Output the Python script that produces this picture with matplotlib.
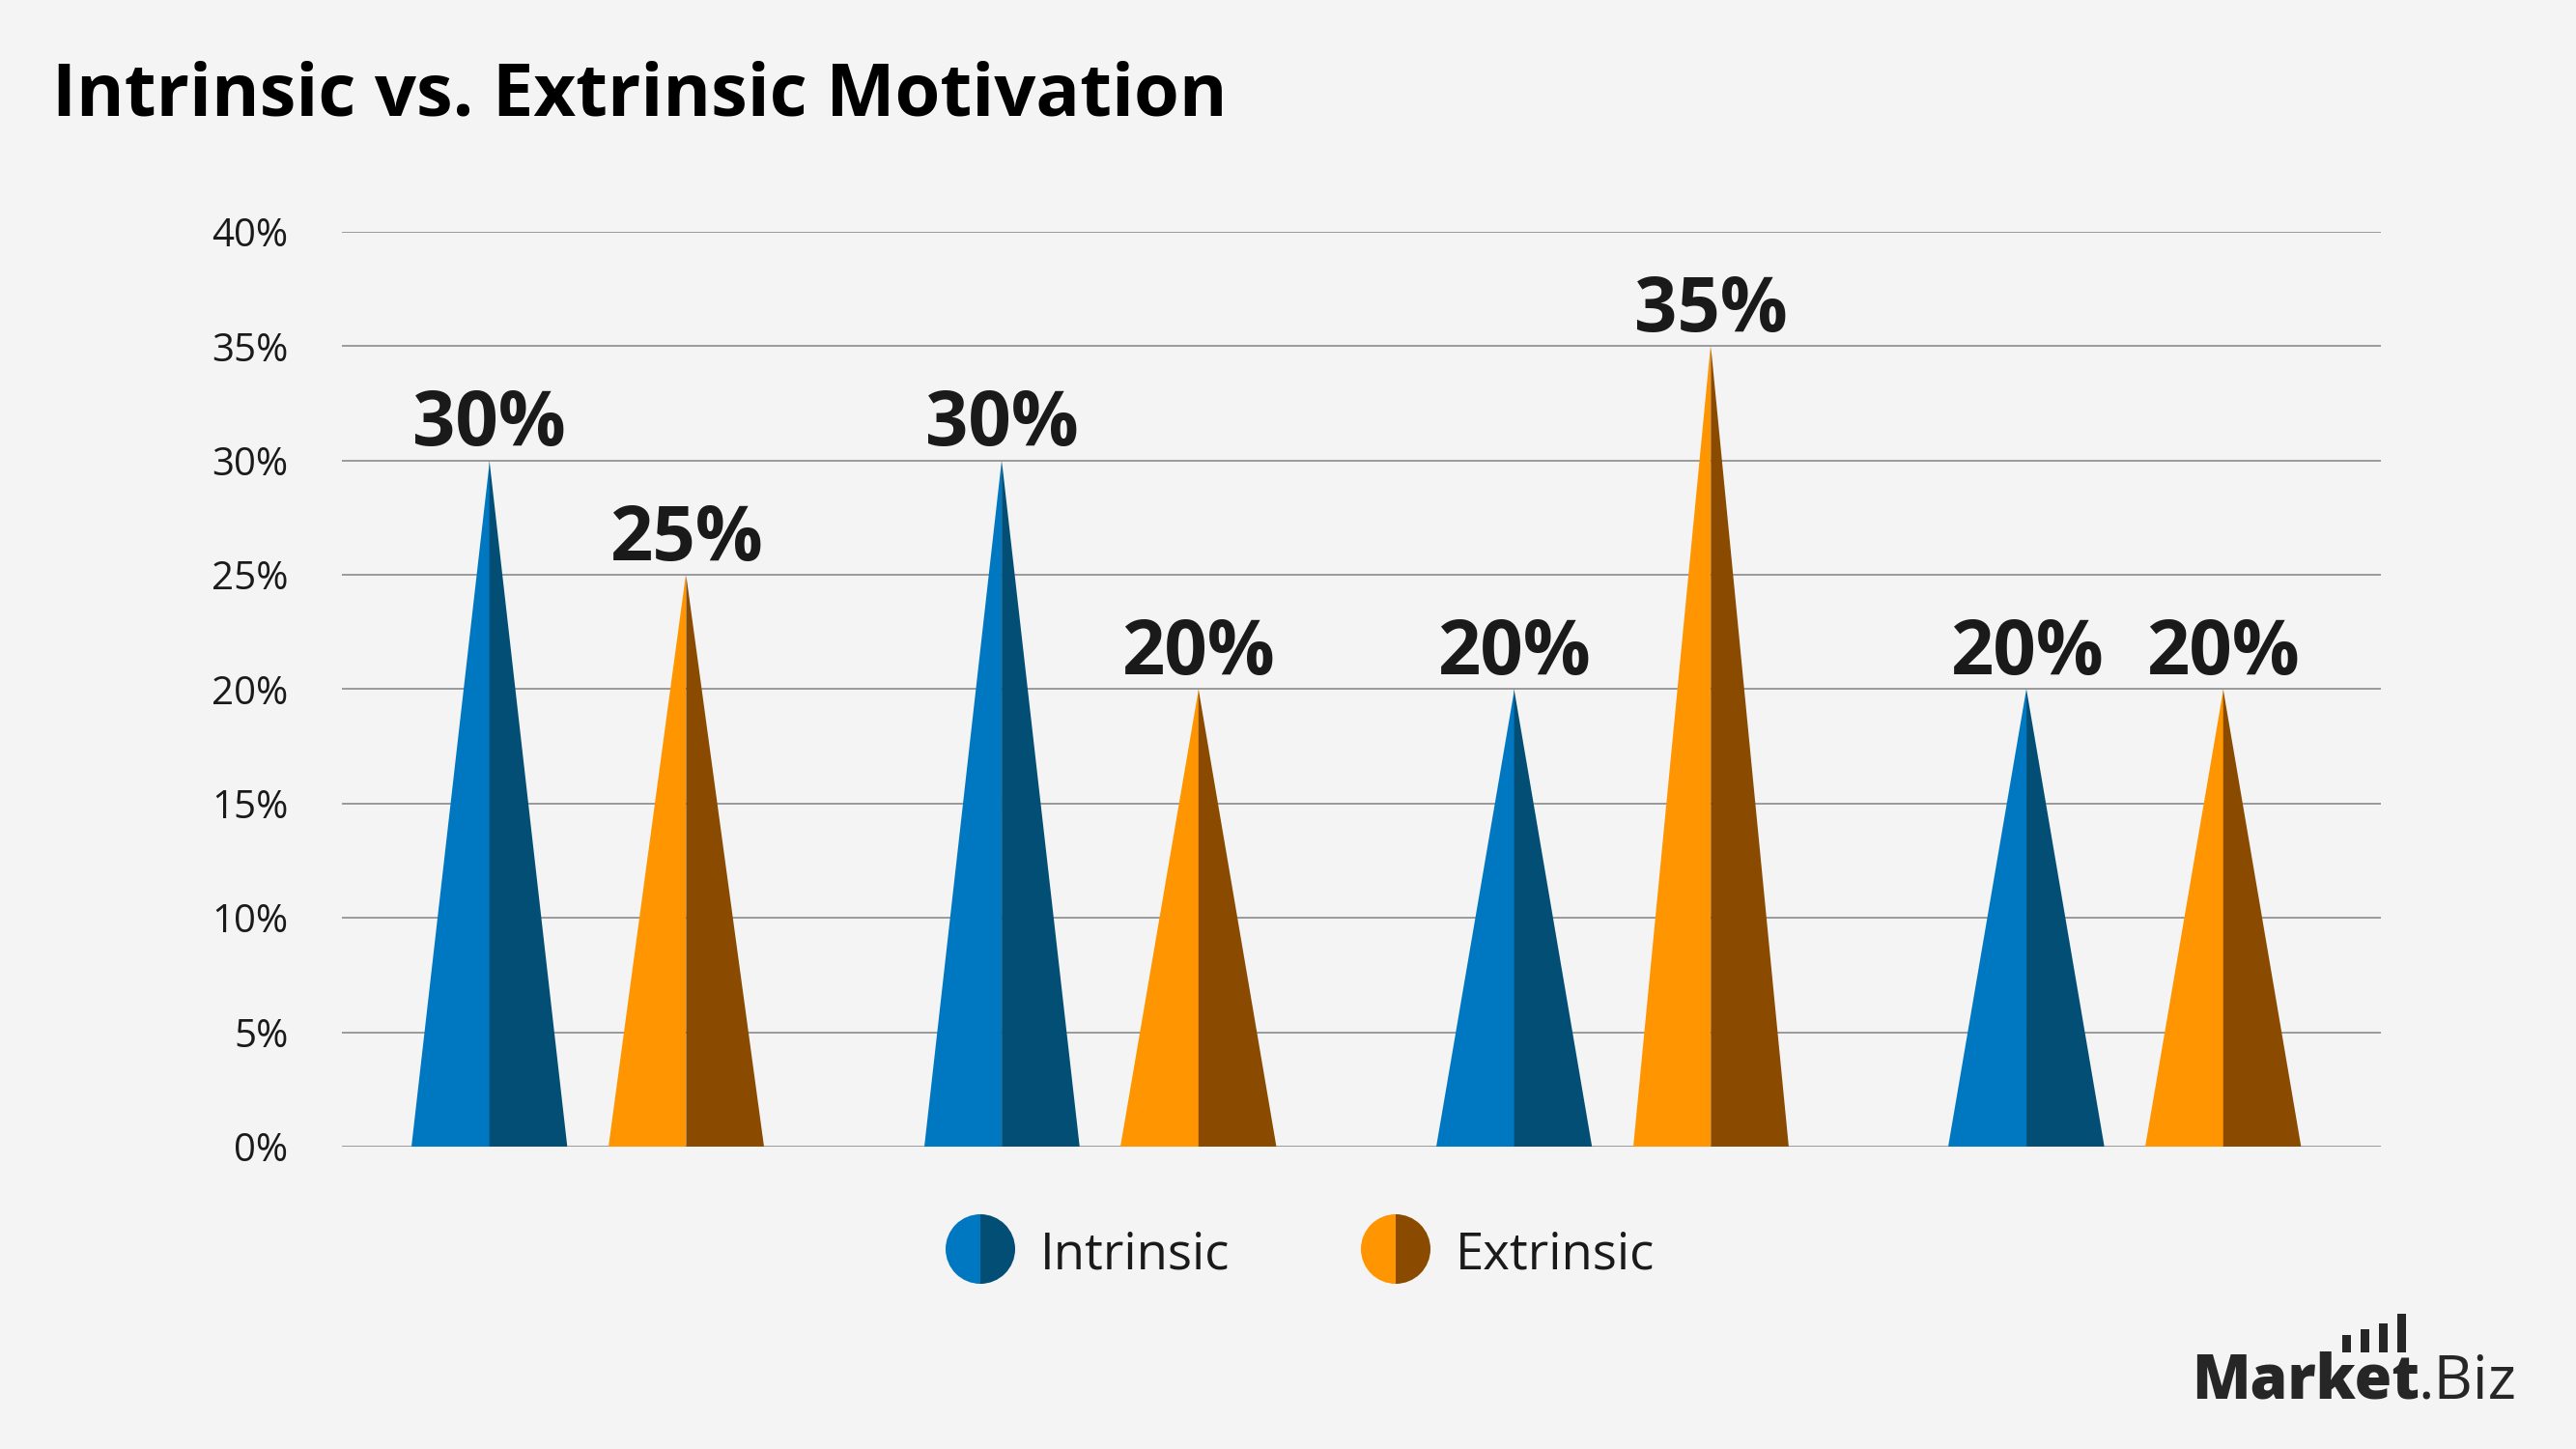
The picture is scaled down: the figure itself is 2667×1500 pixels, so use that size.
import numpy as np
import matplotlib.pyplot as plt
from matplotlib.patches import Wedge, Rectangle

# data
groups = ["Group 1", "Group 2", "Group 3", "Group 4"]
intrinsic = [30, 30, 20, 20]
extrinsic = [25, 20, 35, 20]
series_names = ["Intrinsic", "Extrinsic"]
yticks = [0, 5, 10, 15, 20, 25, 30, 35, 40]

bg = "#F4F4F4"
blue_light, blue_dark = "#0078C1", "#034E74"
orange_light, orange_dark = "#FF9500", "#8A4A00"
txt = "#1A1A1A"
fnt = "Open Sans"

fig = plt.figure(figsize=(26.67, 15), dpi=100, facecolor=bg)
ax = fig.add_axes([0.1327, 0.2087, 0.7916, 0.6313], facecolor=bg)

x = np.arange(len(groups))
off = 0.192
hw = 0.152


def cone(cx, v, c1, c2):
    ax.fill([cx - hw, cx, cx], [0, 0, v], color=c1, lw=0, zorder=3)
    ax.fill([cx, cx + hw, cx], [0, 0, v], color=c2, lw=0, zorder=3)
    ax.annotate(f"{v}%", (cx, v), xytext=(0, 11), textcoords="offset points",
                ha="center", va="baseline", fontsize=56, fontweight="bold",
                color=txt, family=fnt, zorder=4)


for i in range(len(groups)):
    cone(x[i] - off, intrinsic[i], blue_light, blue_dark)
    cone(x[i] + off, extrinsic[i], orange_light, orange_dark)

ax.set_xlim(-0.48, 3.5)
ax.set_ylim(0, 40)
ax.set_yticks(yticks)
ax.set_yticklabels([f"{t}%" for t in yticks], fontsize=29, family=fnt,
                   color=txt)
ax.set_xticks([])
ax.tick_params(axis="y", length=0, pad=40)
ax.grid(axis="y", color="#9A9A9A", lw=1.4, zorder=0)
for s in ax.spines.values():
    s.set_visible(False)

fig.text(54 / 2667, 1 - 119 / 1500, "Intrinsic vs. Extrinsic Motivation",
         fontsize=54.5, fontweight="bold", color="#000000", family=fnt,
         ha="left", va="baseline")

# overlay in pixel coordinates for legend and logo
ov = fig.add_axes([0, 0, 1, 1], facecolor="none")
ov.set_xlim(0, 2667)
ov.set_ylim(1500, 0)
ov.axis("off")

leg = [(1015, series_names[0], blue_light, blue_dark),
       (1445, series_names[1], orange_light, orange_dark)]
for cx, name, c1, c2 in leg:
    ov.add_patch(Wedge((cx, 1293), 36, 90, 270, color=c1, lw=0))
    ov.add_patch(Wedge((cx, 1293), 36, 270, 90, color=c2, lw=0))
    ov.text(cx + 62, 1293, name, fontsize=38, family=fnt,
            color=txt, ha="left", va="center_baseline")

logo = "#262626"
ov.text(2269, 1447, "Market", fontsize=45, fontweight="heavy", family=fnt,
        color=logo, ha="left", va="baseline")
ov.text(2503, 1447, ".Biz", fontsize=45, family=fnt, color=logo,
        ha="left", va="baseline")
for bx, top in zip([2425, 2444, 2463, 2482], [1382, 1376, 1370, 1360]):
    ov.add_patch(Rectangle((bx, top), 9, 1400 - top, color=logo, lw=0))

fig.savefig("out.png", dpi=100, facecolor=bg)
